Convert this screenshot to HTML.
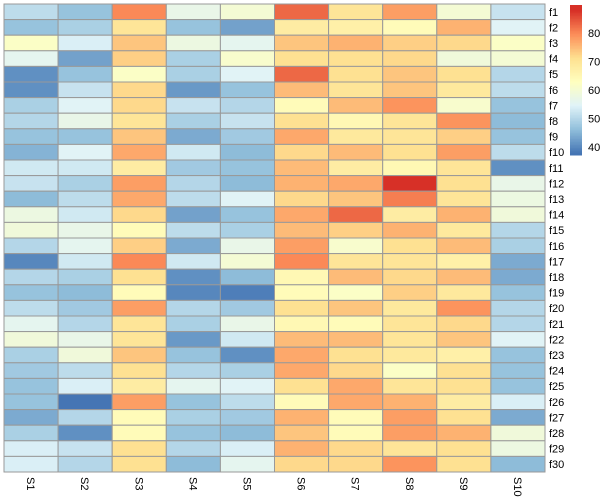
<!DOCTYPE html>
<html><head><meta charset="utf-8"><style>
body{margin:0;background:#fff}
svg{display:block;font-family:"Liberation Sans",sans-serif}
</style></head><body>
<svg id="chart" width="600" height="500" viewBox="0 0 600 500"></svg>
<script>
const samples=["S1","S2","S3","S4","S5","S6","S7","S8","S9","S10"];
const features=["f1","f2","f3","f4","f5","f6","f7","f8","f9","f10","f11","f12","f13","f14","f15","f16","f17","f18","f19","f20","f21","f22","f23","f24","f25","f26","f27","f28","f29","f30"];
const values=[
[51,47,80,57,60,83,70,78,60,52],
[47,49,70,47,43,68,67,64,76,55],
[62,54,74,58,56,74,76,73,72,62],
[56,43,73,49,61,71,71,72,59,60],
[41,47,62,49,55,83,71,74,71,50],
[41,52,72,42,47,75,70,74,69,51],
[49,55,72,52,50,64,75,79,61,47],
[50,57,70,49,52,71,65,70,79,46],
[47,47,74,44,48,77,69,70,73,47],
[45,55,77,53,46,72,75,71,78,51],
[53,53,68,48,47,75,68,65,70,41],
[52,49,78,50,46,76,77,89,71,57],
[46,51,77,51,55,72,74,81,70,58],
[58,53,72,43,47,77,83,68,76,59],
[59,57,64,51,49,75,73,76,69,50],
[50,56,73,44,57,78,61,71,75,49],
[40,53,80,53,60,80,70,70,67,44],
[50,49,71,41,46,65,75,72,75,44],
[47,46,64,40,39,64,62,73,69,47],
[51,48,78,50,48,71,74,69,79,50],
[56,50,70,49,57,65,64,70,72,50],
[59,57,70,42,53,75,75,70,74,55],
[49,59,74,47,41,77,71,69,67,47],
[48,51,71,50,49,77,72,62,71,47],
[47,54,68,56,55,71,77,70,71,47],
[47,38,78,47,51,64,77,76,68,54],
[44,50,64,49,48,76,64,78,71,44],
[49,41,64,47,46,74,64,78,76,59],
[54,52,71,50,54,76,72,70,71,58],
[54,50,71,46,56,72,72,79,71,46]
];
const legendTicks=[40,50,60,70,80];
const vmin=38, vmax=88;
const stops=["#4575B4","#91BFDB","#E0F3F8","#FFFFBF","#FEE090","#FC8D59","#D73027"];
function hex(h){return [1,3,5].map(i=>parseInt(h.substr(i,2),16));}
function color(v){
  let t=(v-vmin)/(vmax-vmin);t=Math.max(0,Math.min(1,t));
  const p=t*(stops.length-1);const i=Math.min(Math.floor(p),stops.length-2);const f=p-i;
  const a=hex(stops[i]),b=hex(stops[i+1]);
  return "rgb("+a.map((x,k)=>Math.round(x+(b[k]-x)*f)).join(",")+")";
}
const gx0=4,gx1=545,gy0=4,gy1=472;
const cw=(gx1-gx0)/samples.length, ch=(gy1-gy0)/features.length;
const xPos=j=>gx0+j*cw, yPos=i=>gy0+i*ch;
const svg=document.getElementById('chart');const NS="http://www.w3.org/2000/svg";
function mk(t,a){const e=document.createElementNS(NS,t);for(const k in a)e.setAttribute(k,a[k]);svg.appendChild(e);return e;}
values.forEach((row,i)=>row.forEach((v,j)=>{
  const r=mk('rect',{x:xPos(j),y:yPos(i),width:cw,height:ch,fill:color(v),stroke:'#999','stroke-width':1});
  
  
}));
features.forEach((f,i)=>{
  const t=mk('text',{x:gx1+4,y:yPos(i)+ch/2+4,'font-size':11,fill:'#000'});t.textContent=f;
  
  
});
samples.forEach((s,j)=>{
  const cx=xPos(j)+cw/2-4, cy=gy1+5;
  const t=mk('text',{x:cx,y:cy,'font-size':11,fill:'#000',transform:`rotate(90 ${cx} ${cy})`});t.textContent=s;
  
  
});
const ly0=5,ly1=155,lx=570,lw=12;
const lvmin=37.2,lvmax=89.8;
const ly=v=>ly1-(v-lvmin)/(lvmax-lvmin)*(ly1-ly0);
const N=100;
for(let k=0;k<N;k++){
  const v0=lvmin+(lvmax-lvmin)*k/N, v1=lvmin+(lvmax-lvmin)*(k+1)/N;
  const r=mk('rect',{x:lx,y:ly(v1),width:lw,height:ly(v0)-ly(v1)+0.5,fill:color((v0+v1)/2)});
  
  
}
legendTicks.forEach(v=>{
  const t=mk('text',{x:588,y:ly(v)+4,'font-size':11,fill:'#000'});t.textContent=v;
  
  
});
</script>
</body></html>
